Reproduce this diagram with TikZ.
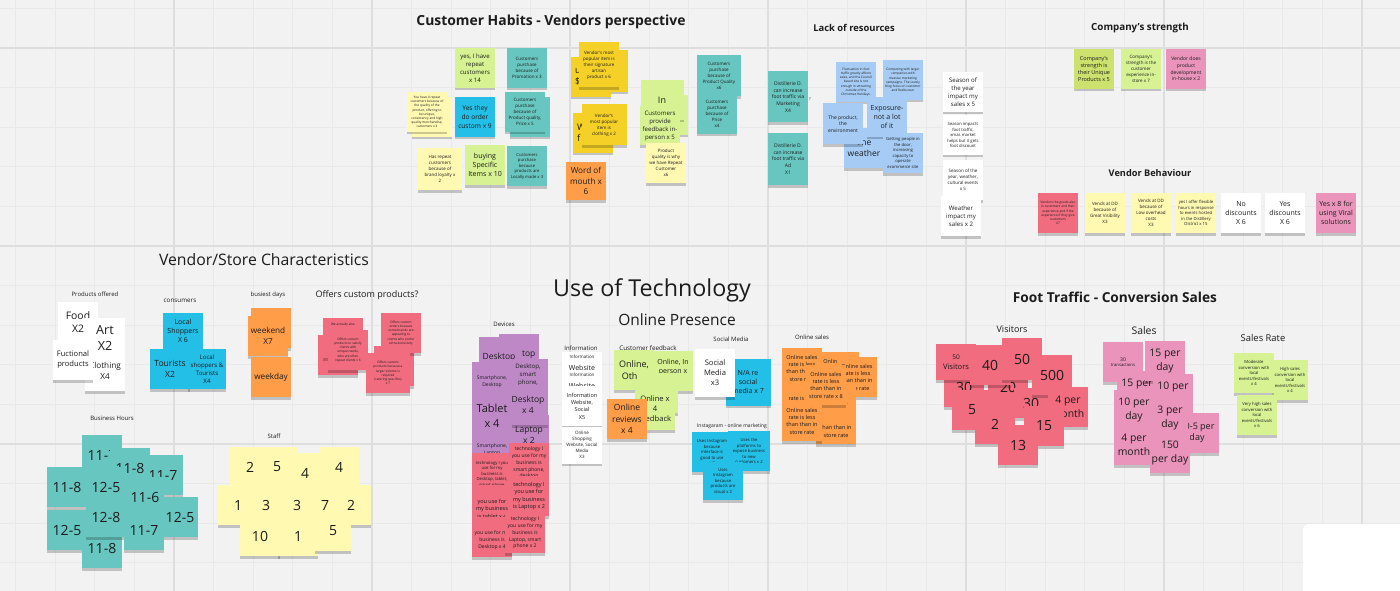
\documentclass[tikz,border=0pt]{standalone}
\usepackage{fontspec}
\setmainfont{Open Sans}
\usetikzlibrary{shadows}
\definecolor{bg}{RGB}{242,242,242}
\definecolor{gmin}{RGB}{233,233,233}
\definecolor{gmaj}{RGB}{222,222,222}
\definecolor{ink}{RGB}{28,28,28}
\definecolor{lime}{RGB}{214,242,146}
\definecolor{olive}{RGB}{205,226,110}
\definecolor{tealn}{RGB}{103,198,192}
\definecolor{ylw}{RGB}{255,249,177}
\definecolor{gold}{RGB}{245,209,40}
\definecolor{orng}{RGB}{255,157,72}
\definecolor{cyn}{RGB}{35,191,231}
\definecolor{lblue}{RGB}{166,204,245}
\definecolor{rednote}{RGB}{241,108,127}
\definecolor{pnk}{RGB}{234,148,187}
\definecolor{purp}{RGB}{190,136,199}
\tikzset{
  note/.style={rectangle, minimum width=40pt, minimum height=40pt, align=center, inner sep=0pt, text=ink,
    drop shadow={shadow xshift=0pt, shadow yshift=-2.5pt, opacity=0.2, fill=black}},
  fs/.style 2 args={font=\fontsize{#1}{#2}\selectfont},
  t3/.style={fs={3.2}{4.2}},
  t4/.style={fs={4.2}{5.5}},
  t45/.style={fs={4.5}{6}},
  t5/.style={fs={5}{6.7}},
  t55/.style={fs={5.5}{7.3}},
  t6/.style={fs={6.1}{8.1}},
  t65/.style={fs={6.6}{8.8}},
  t7/.style={fs={7}{9.3}},
  t75/.style={fs={7.6}{10}},
  t8/.style={fs={8.2}{10.9}},
  t85/.style={fs={8.5}{11.3}},
  t9/.style={fs={9}{11.5}},
  t10/.style={fs={10.4}{13.5}},
  t11/.style={fs={11}{14.6}},
  t12/.style={fs={12.6}{16.5}},
  t14/.style={fs={14}{18}},
  lbl/.style={text=ink, inner sep=0pt},
  ttlb/.style 2 args={lbl, font=\bfseries\fontsize{#1}{#2}\selectfont},
  minorln/.style={draw=gmin, line width=0.8pt},
  majorln/.style={draw=gmaj, line width=1.3pt},
}
\newcommand\stk[5]{\node[note,fill=#1,#4] (#2) at (#3) {#5};}
\newcommand\hid[1]{\phantom{#1}}
\begin{document}
\begin{tikzpicture}[x=1pt,y=-1pt]
\useasboundingbox (0,0) rectangle (1400,591);
\fill[bg] (0,0) rectangle (1400,591);
\foreach \k in {0,...,35} {\draw[minorln] ({15.6+39.6*\k},0) -- ({15.6+39.6*\k},591);}
\foreach \k in {0,...,14} {\draw[minorln] (0,{8.4+39.6*\k}) -- (1400,{8.4+39.6*\k});}
\foreach \v in {174,372,570,768,966,1164,1362} {\draw[majorln] (\v,0) -- (\v,591);}
\foreach \h in {48,246,444} {\draw[majorln] (0,\h) -- (1400,\h);}

% ---------- Customer Habits ----------
\stk{lime}{c1}{475,68}{t6}{yes, I have\\repeat\\customers\\x 14}
\stk{tealn}{c2}{527,68}{t45}{Customers\\purchase\\because of\\Promotion x 3}
\stk{ylw}{c3b}{432,117}{}{}
\stk{ylw}{c3a}{427,112}{t3}{You have 4 repeat\\customers because of\\the quality of the\\product, offering to\\be unique,\\consistency and high\\quality merchandise,\\customers x 4}
\stk{cyn}{c4}{475,117}{t65}{Yes they\\do order\\custom x 9}
\stk{tealn}{c5b}{530,117}{}{}
\stk{tealn}{c5a}{525,112}{t45}{Customers\\purchase\\because of\\Product quality,\\Price x 5}
\stk{ylw}{c6}{440,169}{t45,minimum width=44pt,minimum height=42pt}{Has repeat\\customers\\because of\\brand loyalty x\\2}
\stk{lime}{c7}{485,165}{t7}{buying\\Specific\\Items x 10}
\stk{tealn}{c8}{527,166}{t4}{Customers\\purchase\\because\\products are\\Locally made x 3}
\stk{gold}{g1b}{608,71}{minimum height=42pt}{}
\stk{gold}{g1a}{591,77}{t9,text width=32pt,align=left}{u\\\$}
\stk{gold}{g1c}{599,65}{t45,minimum height=45pt}{Vendor's most\\popular item is\\their signature\\artisan\\product x 6}
\stk{gold}{g2a}{593,133}{t9,text width=32pt,align=left}{W\\f}
\stk{gold}{g2b}{604,125}{t45,minimum width=45pt,minimum height=41pt}{Vendor's\\most popular\\item is\\clothing x 2}
\stk{orng}{c11}{586,181}{t8,minimum height=38pt}{Word of\\mouth x\\6}
\stk{lime}{l1c}{668,115}{}{}
\stk{lime}{l1a}{662,100}{t9,minimum width=43pt}{In}
\stk{lime}{l1b}{660,126}{t6,minimum height=39pt}{Customers\\provide\\feedback in-\\person x 5}
\stk{ylw}{c13}{666,163}{t45}{Product\\quality is why\\we have Repeat\\Customer\\x6}
\stk{tealn}{t1}{719,76}{t45,minimum width=44pt,minimum height=41pt}{Customers\\purchase\\because of\\Product Quality\\x6}
\stk{tealn}{t2}{717,114}{t45}{Customers\\purchase\\because of\\Price\\x4}

% ---------- Lack of resources ----------
\stk{tealn}{d1}{788,97}{t5,minimum height=51pt}{Distillerie D.\\can increase\\foot traffic via\\Marketing\\X4}
\stk{tealn}{d2}{788,159}{t5,minimum height=52pt}{Distillerie D.\\can increase\\foot traffic via\\Ad\\X1}
\stk{lblue}{b1}{856,82}{t3}{Fluctuation in foot\\traffic greatly affects\\sales, and the Council\\based site is not\\enough in attracting\\outside of the\\Christmas Holidays.}
\stk{lblue}{b2}{903,80}{t3}{Competing with larger\\companies with\\massive marketing\\campaigns. The Lovely\\blog focus on customer\\and Rediscover}
\stk{lblue}{bw}{864,148}{t85,minimum width=41pt}{The\\weather}
\stk{lblue}{b3}{843,124}{t5,minimum height=41pt}{The product,\\the\\environment}
\stk{lblue}{b4}{887,117}{t7}{Exposure-\\not a lot\\of it}
\stk{lblue}{b5}{903,153}{t4}{Getting people in\\the door,\\increasing\\capacity to\\operate\\ecommerce site}
\stk{white}{w1}{963,92}{t6}{Season of\\the year\\impact my\\sales x 5}
\stk{white}{w2}{963,135}{t4}{Season impacts\\foot traffic,\\xmas market\\helps but it gets\\foot discount}
\stk{white}{w3}{963,180}{t45}{Season of the\\year, weather,\\cultural events\\x 5}
\stk{white}{w4}{961,216}{t6}{Weather\\impact my\\sales x 2}

% ---------- Company's strength / Vendor behaviour ----------
\stk{olive}{cs1}{1094,69}{t55}{Company's\\strength is\\their Unique\\Products x 5}
\stk{lime}{cs2}{1141,69}{t45}{Company's\\strength is the\\customer\\experience in-\\store x 7}
\stk{pnk}{cs3}{1186,69}{t5}{Vendor does\\product\\development\\in-house x 2}
\stk{rednote}{vb1}{1058,213}{t3}{Vendors the goods also\\in customers and their\\experience and if the\\experience if they give\\customers\\X7}
\stk{ylw}{vb2}{1105,213}{t45}{Vends at DD\\because of\\Great Visibility\\X3}
\stk{ylw}{vb3}{1151,213}{t45}{Vends at DD\\because of\\Low overhead\\costs\\X3}
\stk{ylw}{vb4}{1196,213}{t4}{yes I offer flexible\\hours in response\\to events hosted\\in the Distillery\\District x 15}
\stk{white}{vb5}{1241,213}{t7}{No\\discounts\\X 6}
\stk{white}{vb6}{1285,213}{t7}{Yes\\discounts\\X 6}
\stk{pnk}{vb7}{1336,213}{t7}{Yes x 8 for\\using Viral\\solutions}

% ---------- Vendor/Store characteristics ----------
\stk{white}{pf1}{78,322}{t10}{Food\\X2}
\stk{white}{pf2}{105,338}{t12}{Art\\X2}
\stk{white}{pf3}{105,371}{t8}{Clothing\\X4}
\stk{white}{pf4}{73,360}{t75}{Fuctional\\products}
\stk{cyn}{cu1}{183,331}{t7,minimum height=37pt}{Local\\Shoppers\\X 6}
\stk{cyn}{cu2}{170,369}{t85}{Tourists\\X2}
\stk{cyn}{cu3}{207,369}{t6,minimum width=38pt}{Local\\shoppers \&\\Tourists\\X4}
\stk{orng}{bd1}{271,328}{}{}
\stk{orng}{bd2}{268,336}{t8}{weekend\\X7}
\stk{orng}{bd3}{271,377}{t8}{weekday}
\stk{rednote}{r0}{338,355}{}{}
\stk{rednote}{r1}{343,338}{}{}
\node[lbl,t3,anchor=north] (r1t) at ([yshift=-5pt]r1.north) {We actually also};
\stk{rednote}{r3}{394,366}{}{}
\stk{rednote}{r2}{348,350}{t3}{Offers custom\\products to satisfy\\clients with\\unique needs,\\who are often\\repeat clients x 6}
\stk{rednote}{r4}{401,333}{t3}{Offers custom\\orders because\\some brands are\\appealing to\\clients who prefer\\extra exclusivity}
\stk{rednote}{r5}{388,373}{t3,minimum width=44pt}{Offers custom\\products because a\\larger volume is\\required\\(catering specifics)\\x 7}

% Business hours
\stk{tealn}{bh1}{102,455}{t14}{11-7}
\stk{tealn}{bh3}{163,475}{t14}{11-7}
\stk{tealn}{bh2}{130,468}{t14}{11-8}
\stk{tealn}{bh4}{67,487}{t14}{11-8}
\stk{tealn}{bh5}{106,487}{t14}{12-5}
\stk{tealn}{bh6}{145,497}{t14,minimum width=38pt}{11-6}
\stk{tealn}{bh7}{180,517}{t14,minimum width=35pt}{12-5}
\stk{tealn}{bh9}{67,530}{t14}{12-5}
\stk{tealn}{bh11}{102,548}{t14}{11-8}
\stk{tealn}{bh8}{106,517}{t14}{12-8}
\stk{tealn}{bh10}{144,530}{t14}{11-7}

% Staff
\stk{ylw}{sf1}{250,467}{t14}{2}
\stk{ylw}{sf2}{277,467}{t14}{5}
\stk{ylw}{sf3}{305,473}{t14}{4}
\stk{ylw}{sf4}{339,467}{t14}{4}
\stk{ylw}{sf5}{238,505}{t14}{1}
\stk{ylw}{sf6}{266,505}{t14}{3}
\stk{ylw}{sf7}{297,505}{t14}{3}
\stk{ylw}{sf8}{325,505}{t14}{7}
\stk{ylw}{sf9}{351,505}{t14}{2}
\stk{ylw}{sf10}{260,536}{t14}{10}
\stk{ylw}{sf11}{298,536}{t14}{1}
\stk{ylw}{sf12}{333,531}{t14,minimum width=36pt}{5}

% ---------- Use of Technology ----------
\stk{purp}{p1}{519,354}{t85}{\hid{Desk}top}
\stk{purp}{p2}{499,357}{t85}{Desktop}
\stk{purp}{p3}{528,379}{t6}{Desktop,\\smart\\phone,\\\hid{laptop}}
\stk{purp}{p4}{492,382}{t5}{Smartphone,\\Desktop}
\stk{purp}{p7}{529,435}{t85}{Laptop\\x 2}
\stk{purp}{p6}{528,405}{t85}{Desktop\\x 4}
\stk{purp}{p5}{492,416}{t11}{Tablet\\x 4}
\stk{purp}{p8}{492,450}{t5}{Smartphone,\\Laptop}
\stk{rednote}{rt1}{529,463}{t5}{technology I\\you use for my\\business is\\smart phone,\\desktop}
\stk{rednote}{rt2}{492,474}{t4,minimum height=42pt}{technology I you\\use for my\\business is\\Desktop, tablet,\\smart phone}
\stk{rednote}{rt3}{529,496}{t55}{technology I\\you use for\\my business\\is Laptop x 2}
\stk{rednote}{rt4}{492,505}{t55}{\hid{technology I}\\you use for\\my business\\is tablet x 4}
\stk{rednote}{rt6}{492,537}{t5}{\hid{technology I}\\you use for my\\business is\\Desktop x 4}
\stk{rednote}{rt5}{525,533}{t5}{technology I\\you use for my\\business is\\Laptop, smart\\phone x 2}

\stk{white}{inf1}{582,372}{}{}
\node[lbl,anchor=north,align=center] (inf1t) at ([yshift=-3pt]inf1.north) {{\fontsize{4.5}{5.5}\selectfont Information}\\{\fontsize{7}{8}\selectfont Website}};
\stk{white}{inf2}{582,390}{}{}
\node[lbl,anchor=north,align=center] (inf2t) at ([yshift=-3pt]inf2.north) {{\fontsize{4.5}{5.5}\selectfont Information}\\{\fontsize{7}{8}\selectfont Website}};
\stk{white}{inf3}{582,406}{t55}{Information\\Website,\\Social\\X5}
\stk{white}{inf4}{582,445}{t45,minimum height=37pt}{Online\\Shopping\\Website, Social\\Media\\X3}

\stk{lime}{lf1}{634,370}{t9}{Online,\\Other}
\stk{lime}{lf2}{673,371}{t7}{Online, In\\person x\\3}
\stk{lime}{lfx}{658,393}{}{}
\stk{lime}{lf3}{655,409}{t75,minimum height=42pt}{Online x\\4\\feedback}
\stk{orng}{or1}{627,419}{t85}{Online\\reviews\\x 4}

\stk{cyn}{sm2}{748,382}{t7,minimum width=45pt,minimum height=47pt}{N/A re\\social\\media x 7}
\stk{white}{sm1}{715,373}{t75,minimum height=48pt}{Social\\Media\\x3}

\stk{orng}{os2}{839,372}{t55}{Online sales\\\hid{rate is less}\\\hid{than than in}\\\hid{store rate}}
\stk{orng}{os3}{857,377}{t55}{Online sales\\rate is less\\than than in\\store rate}
\stk{orng}{os1}{802,368}{t55}{Online sales\\rate is less\\than th\hid{an in}\\store r\hid{ate}}
\stk{orng}{os4}{802,402}{t55}{\hid{Online sales}\\rate is l\hid{ess}\\than than in\\\hid{store rate}}
\stk{orng}{os5}{836,402}{t55}{\hid{Online sales}\\\hid{rate is less}\\than than in\\store rate}
\stk{orng}{os8}{836,424}{t55}{\hid{Online sales}\\\hid{rate is less}\\than than in\\store rate}
\stk{orng}{os6}{826,385}{t55}{Online sales\\rate is less\\than than in\\store rate x 8}
\stk{orng}{os7}{802,421}{t55}{Online sales\\rate is less\\than than in\\store rate}

\stk{cyn}{ig1}{712,452}{t4}{Uses Instagram\\because\\Interface is\\good to use\\x 2}
\stk{cyn}{ig2}{749,451}{t4,minimum width=42pt}{Uses the\\platforms to\\expose business\\to new\\customers x 2}
\stk{cyn}{ig3}{723,481}{t4,minimum height=38pt}{Uses\\Instagram\\because\\products are\\visual x 2}

% ---------- Foot traffic ----------
\stk{rednote}{ft30}{964,387}{t14}{30}
\stk{rednote}{ft20}{1008,387}{t14}{20}
\stk{rednote}{ftx}{1031,403}{t14,minimum width=34pt,minimum height=30pt}{30}
\stk{rednote}{ft50v}{956,362}{t75,minimum height=36pt}{{\fontsize{6.5}{8}\selectfont 50}\\Visitors}
\stk{rednote}{ft40}{990,365}{t14,minimum width=41pt}{40}
\stk{rednote}{ft50}{1022,359}{t14,minimum height=42pt}{50}
\stk{rednote}{ft500}{1052,375}{t14}{500}
\stk{rednote}{ft4}{1068,407}{t10}{4 per\\month}
\stk{rednote}{ft5}{972,410}{t14}{5}
\stk{rednote}{ft2}{995,424}{t14}{2}
\stk{rednote}{ft15}{1044,426}{t14}{15}
\stk{rednote}{ft13}{1018,445}{t14}{13}

\stk{pnk}{sp1}{1123,362}{t4}{{\fontsize{5}{6.5}\selectfont 30}\\transactions}
\stk{pnk}{sp3}{1137,391}{t10}{15 per\\\hid{day}}
\stk{pnk}{sp2}{1165,361}{t10}{15 per\\day}
\stk{pnk}{sp4}{1173,394}{t10}{10 per\\\hid{day}}
\stk{pnk}{sp5}{1134,410}{t10}{10 per\\day}
\stk{pnk}{sp7}{1197,433}{t9,minimum width=43pt}{10-5 per\\day}
\stk{pnk}{sp6}{1170,418}{t10,minimum width=36pt}{3 per\\day}
\stk{pnk}{sp8}{1134,445}{t10}{4 per\\month}
\stk{pnk}{sp9}{1170,453}{t10}{150\\per day}

\stk{lime}{sr2}{1290,380}{t4,minimum width=36pt}{High sales\\conversion with\\local\\events/festivals\\x 4}
\stk{lime}{sr1}{1254,373}{t4}{Moderate\\conversion with\\local\\events/festivals\\x 4}
\stk{lime}{sr3}{1257,415}{t4}{Very high sales\\conversion with\\local\\events/festivals\\x 6}

% ---------- panel bottom right ----------
\fill[white, rounded corners=5pt] (1303,524) rectangle (1420,610);

% ---------- titles & labels ----------
\node[ttlb={13.9}{16}] (tCH) at (551,22) {Customer Habits - Vendors perspective};
\node[ttlb={9.4}{11}] (tLR) at (854,28) {Lack of resources};
\node[ttlb={9.8}{12}] (tCS) at (1140,28) {Company's strength};
\node[ttlb={9.2}{11}] (tVB) at (1150,173) {Vendor Behaviour};
\node[lbl,fs={15.8}{19}] (tVS) at (264,260) {Vendor/Store Characteristics};
\node[lbl,fs={23.3}{27}] (tUT) at (652,290) {Use of Technology};
\node[lbl,fs={15.5}{18}] (tOP) at (677,320) {Online Presence};
\node[ttlb={13.7}{16}] (tFT) at (1115,297) {Foot Traffic - Conversion Sales};
\node[lbl,fs={4}{5}] (qm) at (810,99) {?};
\node[lbl,fs={6}{7}] (lPO) at (95,294) {Products offered};
\node[lbl,fs={6.3}{7}] (lCO) at (180,301) {consumers};
\node[lbl,fs={6}{7}] (lBD) at (268,295) {busiest days};
\node[lbl,fs={9}{11}] (lOC) at (367,295) {Offers custom products?};
\node[lbl,fs={6}{7}] (lBH) at (112,418) {Business Hours};
\node[lbl,fs={6}{7}] (lST) at (274,436) {Staff};
\node[lbl,fs={6}{7}] (lDE) at (504,324) {Devices};
\node[lbl,fs={6}{7}] (lIN) at (581,348) {Information};
\node[lbl,fs={6.3}{7}] (lCF) at (648,348) {Customer feedback};
\node[lbl,fs={6}{7}] (lSM) at (731,339) {Social Media};
\node[lbl,fs={6}{7}] (lOS) at (812,337) {Online sales};
\node[lbl,fs={5}{6}] (lIG) at (732,426) {Instagaram - online marketing};
\node[lbl,fs={9}{11}] (lVI) at (1012,329) {Visitors};
\node[lbl,fs={10.4}{12}] (lSA) at (1144,331) {Sales};
\node[lbl,fs={9.4}{11}] (lSR) at (1263,338) {Sales Rate};
\end{tikzpicture}
\end{document}
